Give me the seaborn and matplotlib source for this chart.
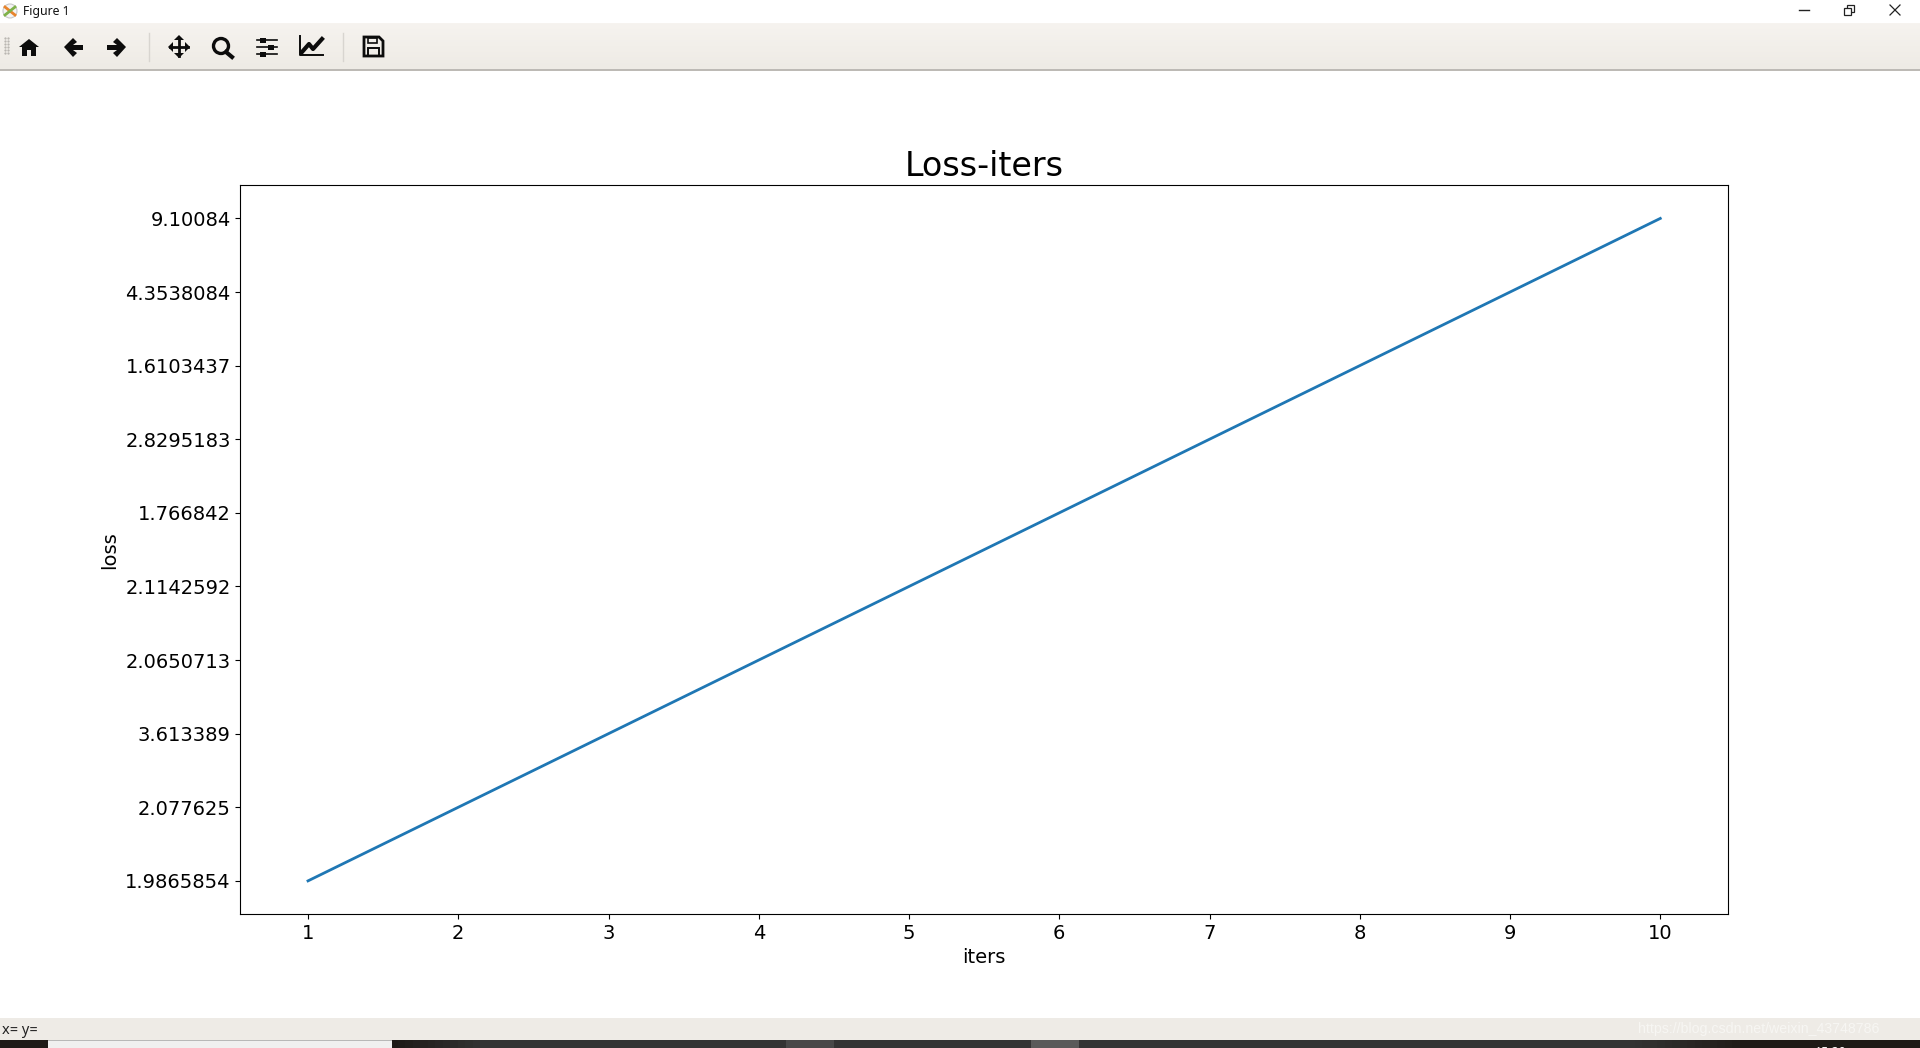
import numpy as np
import pandas as pd
import matplotlib
matplotlib.use("Agg")
import matplotlib.pyplot as plt
from matplotlib.colors import LinearSegmentedColormap
from matplotlib.patches import Rectangle, Polygon, Circle
import seaborn as sns

# chart values (the y axis is categorical: strings in plotting order)
iters = [1, 2, 3, 4, 5, 6, 7, 8, 9, 10]
losses = ["1.9865854", "2.077625", "3.613389", "2.0650713", "2.1142592",
          "1.766842", "2.8295183", "1.6103437", "4.3538084", "9.10084"]

W, H = 1920, 1048
fig = plt.figure(figsize=(W / 100, H / 100), dpi=100, facecolor="white")

# ==========================================
# 1. Window chrome, in pixel coordinates
# ==========================================
bg = fig.add_axes([0, 0, 1, 1], zorder=0)

# toolbar and taskbar gradients
tb_cmap = LinearSegmentedColormap.from_list("tb", ["#f6f3ef", "#eeebe5"])
bg.imshow(np.linspace(0, 1, 46)[:, None], extent=(0, W, 69, 23), aspect="auto", cmap=tb_cmap)
task_cmap = LinearSegmentedColormap.from_list("task", [
    (0.0, "#1e1a17"), (392 / W, "#1e1a17"), (480 / W, "#333333"),
    (1640 / W, "#333333"), (1750 / W, "#1f1a16"), (1.0, "#1f1a16")])
bg.imshow(np.linspace(0, 1, W)[None, :], extent=(0, W, 1048, 1040), aspect="auto", cmap=task_cmap)
bg.set_xlim(0, W)
bg.set_ylim(H, 0)
bg.axis("off")

bg.add_patch(Rectangle((0, 69), W, 1.5, color="#bdbab5", lw=0))
bg.add_patch(Rectangle((0, 1018), W, 22, color="#eeebe6", lw=0))
bg.add_patch(Rectangle((48, 1040), 344, 8, color="#f0f0f0", lw=0))
bg.add_patch(Rectangle((48, 1040), 344, 1, color="#b8b8b8", lw=0))
bg.add_patch(Rectangle((786, 1040), 48, 8, color="#484848", lw=0))
bg.add_patch(Rectangle((1031, 1040), 48, 8, color="#5a5a5a", lw=0))

# title bar
bg.add_patch(Circle((10, 11), 7, fc="#f4f4f4", ec="#c8c8c8", lw=0.8))
bg.plot([5, 15], [7, 15], color="#e8842c", lw=2)
bg.plot([5, 15], [15, 7], color="#7fb24a", lw=2)
bg.add_patch(Circle((10, 11), 1.8, color="#3f76b5", lw=0))
bg.text(23, 12, "Figure 1", fontsize=8.8, family="Noto Sans", va="center", color="#111111")
bg.plot([1799, 1809], [10, 10], color="#222222", lw=1)
bg.add_patch(Rectangle((1847, 5), 7, 7, fc="none", ec="#222222", lw=0.9))
bg.add_patch(Rectangle((1844, 8), 7, 7, fc="white", ec="#222222", lw=0.9))
bg.plot([1890, 1900], [5, 15], color="#222222", lw=0.9)
bg.plot([1890, 1900], [15, 5], color="#222222", lw=0.9)

# toolbar grip and separators
for yy in np.arange(38, 55, 3):
    bg.plot([5, 8], [yy, yy], ls="none", marker=".", ms=1.2, color="#b5b2ad")
for xx in [149, 343]:
    bg.plot([xx, xx], [33, 61], color="#d8d5d0", lw=1)

# toolbar icons
ic = "#0c0c0c"
bg.add_patch(Polygon([(19, 47), (29, 39), (39, 47), (36, 47), (36, 56), (31, 56), (31, 50), (27, 50), (27, 56), (22, 56), (22, 47)], color=ic, lw=0))
bg.add_patch(Polygon([(64, 47), (73, 38), (77, 42), (73, 45), (83, 45), (83, 50), (73, 50), (77, 53), (73, 57)], color=ic, lw=0))
bg.add_patch(Polygon([(126, 47), (117, 38), (113, 42), (117, 45), (107, 45), (107, 50), (117, 50), (113, 53), (117, 57)], color=ic, lw=0))
bg.plot([170, 188], [47, 47], color=ic, lw=2)
bg.plot([179, 179], [38, 56], color=ic, lw=2)
bg.add_patch(Polygon([(168, 47), (173, 42), (173, 52)], color=ic, lw=0))
bg.add_patch(Polygon([(190, 47), (185, 42), (185, 52)], color=ic, lw=0))
bg.add_patch(Polygon([(179, 35), (174, 40), (184, 40)], color=ic, lw=0))
bg.add_patch(Polygon([(179, 58), (174, 53), (184, 53)], color=ic, lw=0))
bg.add_patch(Circle((221, 46), 7.5, fc="none", ec=ic, lw=2.4))
bg.plot([226, 232], [52, 57], color=ic, lw=3)
for yy, xx in zip([40, 47, 54], [263, 271, 263]):
    bg.plot([257, 277], [yy, yy], color=ic, lw=1.2)
    bg.add_patch(Rectangle((xx - 3, yy - 2.5), 6, 5, color=ic, lw=0))
bg.plot([300, 300, 323], [36, 55, 55], color=ic, lw=1.4)
bg.plot([302, 309, 313, 322], [52, 44, 49, 39], color=ic, lw=3)
bg.add_patch(Polygon([(364, 37), (379, 37), (383, 41), (383, 56), (364, 56)], fc="none", ec=ic, lw=2))
bg.add_patch(Rectangle((368, 38), 9, 5, fc="none", ec=ic, lw=1.2))
bg.add_patch(Rectangle((368, 48), 11, 8, fc="none", ec=ic, lw=1.4))

# status bar
bg.text(2, 1030, "x= y=", fontsize=10.5, family="Noto Sans", va="center", color="#222222")
bg.text(1638, 1029, "https://blog.csdn.net/weixin_43748786", fontsize=10.2, family="Liberation Sans",
        va="center", color="#f7f6f3")
bg.text(1815, 1053, "15:20", fontsize=9, family="Noto Sans", va="center", color="white", clip_on=True)

# ==========================================
# 2. The chart itself
# ==========================================
df = pd.DataFrame({"iters": iters, "loss": losses})
ax = fig.add_axes([240.4 / W, (H - 914) / H, 1487.5 / W, 728.7 / H], zorder=1)
sns.lineplot(data=df, x="iters", y="loss", sort=False, estimator=None, color="#1f77b4", linewidth=2, ax=ax)
# seaborn flips a categorical y axis, the reference runs bottom to top
ax.invert_yaxis()
ax.set_xticks(iters)
ax.tick_params(labelsize=14)
ax.set_xlabel("iters", fontsize=14)
ax.set_ylabel("loss", fontsize=14)
ax.set_title("Loss-iters", fontsize=24, pad=7)

plt.savefig("out.png", dpi=100)
plt.close()
